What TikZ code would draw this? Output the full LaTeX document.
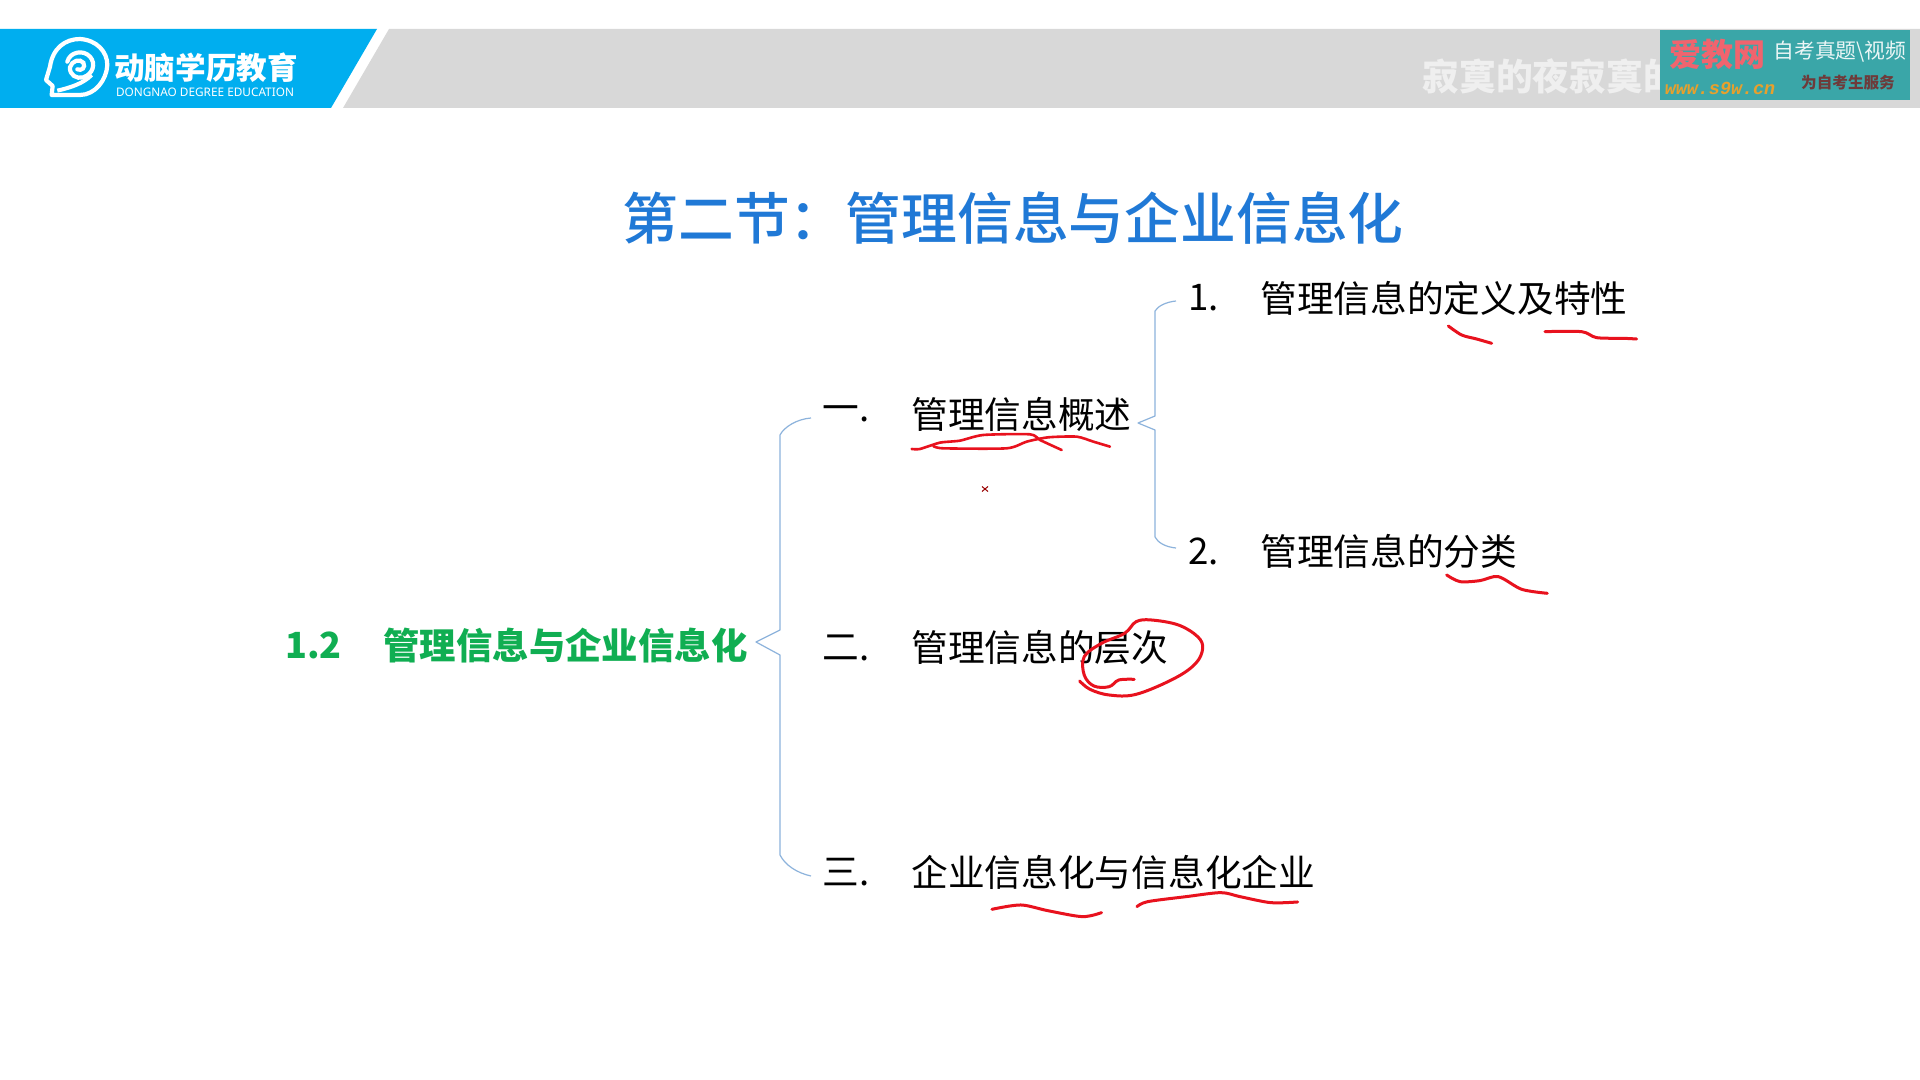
\documentclass[tikz,border=0pt]{standalone}
\usepackage{fontspec}
\setmainfont{Noto Sans CJK SC}
\newfontfamily\cjkmedium{Noto Sans CJK SC Medium}
\newfontfamily\latinsans{Noto Sans}
\newfontfamily\monobold{Liberation Mono}[BoldFont={Liberation Mono Bold}]
\definecolor{headblue}{HTML}{00AEEF}
\definecolor{headgray}{HTML}{D8D8D8}
\definecolor{titleblue}{HTML}{2079D6}
\definecolor{rootgreen}{HTML}{10AE52}
\definecolor{bracecol}{HTML}{8DB3DC}
\definecolor{inkred}{HTML}{E8121E}
\definecolor{wmteal}{HTML}{3AA6A8}
\definecolor{wmred}{HTML}{F0646E}
\definecolor{wmorange}{HTML}{E8A02C}
\definecolor{wmdark}{HTML}{6E3A3A}
\definecolor{ghost}{HTML}{EFEFEF}
\tikzset{
  label text/.style={anchor=west,inner sep=0pt,font=\fontsize{18.35pt}{20pt}\selectfont,text=black},
  brace line/.style={draw=bracecol,line width=0.6pt,line join=round},
  ink/.style={draw=inkred,line width=1.5pt,line cap=round,line join=round},
}
\begin{document}
\begin{tikzpicture}[x=0.5pt,y=-0.5pt]
\useasboundingbox (0,0) rectangle (1920,1080);
\fill[white] (0,0) rectangle (1920,1080);
% header band
\fill[headblue] (0,29) -- (377,29) -- (331,108) -- (0,108) -- cycle;
\fill[headgray] (389,29) -- (1920,29) -- (1920,108) -- (343,108) -- cycle;
% logo
\begin{scope}[shift={(30,30)},scale=0.3333]
\draw[white,line width=2.1pt,line join=round] (65,195) -- (68,168) -- (48,150) -- (60,110)
  .. controls (68,55) and (105,27) .. (150,27)
  .. controls (200,30) and (232,65) .. (232,105)
  .. controls (230,150) and (195,195) .. (150,195) -- cycle;
\draw[white,line width=2.1pt,line cap=round] (142,118)
  .. controls (155,124) and (168,112) .. (160,98)
  .. controls (150,85) and (125,92) .. (120,112)
  .. controls (118,135) and (140,148) .. (160,142)
  .. controls (190,132) and (198,100) .. (180,80)
  .. controls (160,58) and (120,65) .. (112,95);
\draw[white,line width=2pt] (82,182) .. controls (125,172) and (160,160) .. (185,135);
\end{scope}
\node[inner sep=0pt,anchor=center,text=white,font=\fontsize{15.3pt}{16pt}\selectfont\bfseries] (logotext) at (206,68) {动脑学历教育};
\node[inner sep=0pt,anchor=center,text=white,font=\latinsans\fontsize{5.9pt}{7pt}\selectfont] (logosub) at (205,92) {DONGNAO DEGREE EDUCATION};
% ghost text
\node[inner sep=0pt,anchor=west,text=ghost,font=\fontsize{18.4pt}{20pt}\selectfont\bfseries] (ghosttext) at (1422,76) {寂寞的夜寂寞的};
% watermark box
\fill[wmteal] (1660,30) rectangle (1910,100);
\node[inner sep=0pt,anchor=center,text=wmred,font=\fontsize{16pt}{17pt}\selectfont\bfseries] (wmname) at (1717,54) {爱教网};
\node[inner sep=0pt,anchor=center,text=white!90!wmteal,font=\fontsize{10.4pt}{12pt}\selectfont] (wmtag) at (1840,52) {自考真题\textbackslash 视频};
\node[inner sep=0pt,anchor=center,text=wmorange,font=\monobold\fontsize{9.2pt}{10pt}\selectfont\bfseries\itshape] (wmurl) at (1720,88) {www.s9w.cn};
\node[inner sep=0pt,anchor=center,text=wmdark,font=\fontsize{7.8pt}{9pt}\selectfont\bfseries] (wmslogan) at (1848,83) {为自考生服务};
% title
\node[inner sep=0pt,anchor=west,text=titleblue,font=\cjkmedium\fontsize{27.9pt}{30pt}\selectfont] (title) at (622,218) {第二节\char"FF1A 管理信息与企业信息化};
% root
\node[inner sep=0pt,anchor=west,text=rootgreen,font=\fontsize{18pt}{20pt}\selectfont\bfseries] (rootnum) at (285,645) {1.2};
\node[inner sep=0pt,anchor=west,text=rootgreen,font=\fontsize{18.2pt}{20pt}\selectfont\bfseries] (root) at (383,646) {管理信息与企业信息化};
% level 1
\node[label text] (n1) at (822,414) {一.};
\node[label text] (t1) at (911,414) {管理信息概述};
\node[label text] (n2) at (822,648) {二.};
\node[label text] (t2) at (911,648) {管理信息的层次};
\node[label text] (n3) at (822,872) {三.};
\node[label text] (t3) at (911,872) {企业信息化与信息化企业};
% level 2
\node[label text] (m1) at (1188,298) {1.};
\node[label text] (s1) at (1260,298) {管理信息的定义及特性};
\node[label text] (m2) at (1188,551) {2.};
\node[label text] (s2) at (1260,551) {管理信息的分类};
% braces
\coordinate (b1top) at (811,418);
\coordinate (b1tip) at (756,642);
\coordinate (b1bot) at (811,876);
\coordinate (b2top) at (1176,301);
\coordinate (b2tip) at (1138,423);
\coordinate (b2bot) at (1176,548);
\draw[brace line] (b1top) .. controls (797,419) and (784,427) .. (780,435) -- (780,630) -- (b1tip) -- (780,655) -- (780,855) .. controls (785,865) and (797,873) .. (b1bot);
\draw[brace line] (b2top) .. controls (1166,302) and (1158,306) .. (1155,311) -- (1155,416) -- (b2tip) -- (1155,430) -- (1155,537) .. controls (1158,543) and (1166,547) .. (b2bot);
% handwriting
\begin{scope}[shift={(720,260)},scale=0.3333]
\draw[ink,line width=1.3pt] plot[smooth,tension=.4] coordinates {(575,567)(600,567)(660,548)(720,542)(790,525)(930,523)(960,540)(1025,570)};
\draw[ink,line width=1.3pt] plot[smooth,tension=.4] coordinates {(640,558)(670,565)(860,565)(920,545)(985,532)(1070,530)(1120,545)(1170,560)};
\end{scope}
\begin{scope}[shift={(1140,260)},scale=0.3333]
\draw[ink] plot[smooth,tension=.5] coordinates {(925,198)(965,225)(1010,237)(1055,250)};
\draw[ink] plot[smooth,tension=.5] coordinates {(1215,215)(1325,215)(1370,233)(1450,235)(1490,237)};
\draw[ink] plot[smooth,tension=.5] coordinates {(920,945)(960,965)(1020,962)(1075,950)(1145,988)(1222,1000)};
\end{scope}
\begin{scope}[shift={(740,600)},xscale=0.3846,yscale=0.3333]
\draw[ink] plot[smooth,tension=.6] coordinates {(1025,238)(985,240)(960,260)(920,258)(895,225)(895,170)(940,130)(1000,100)(1030,65)(1070,60)(1140,75)(1190,110)(1203,145)(1185,190)(1130,235)(1030,283)(960,285)(910,268)(883,243)};
\draw[ink] plot[smooth,tension=.5] coordinates {(655,928)(730,915)(800,932)(890,950)(940,938)};
\draw[ink] plot[smooth,tension=.5] coordinates {(1032,920)(1060,905)(1160,890)(1250,878)(1300,890)(1380,908)(1450,906)};
\end{scope}
% cursor mark
\draw[draw=red!60!black,line width=0.5pt] (982,486.5) -- (988,491.5) (988,486.5) -- (982,491.5);
\end{tikzpicture}
\end{document}
